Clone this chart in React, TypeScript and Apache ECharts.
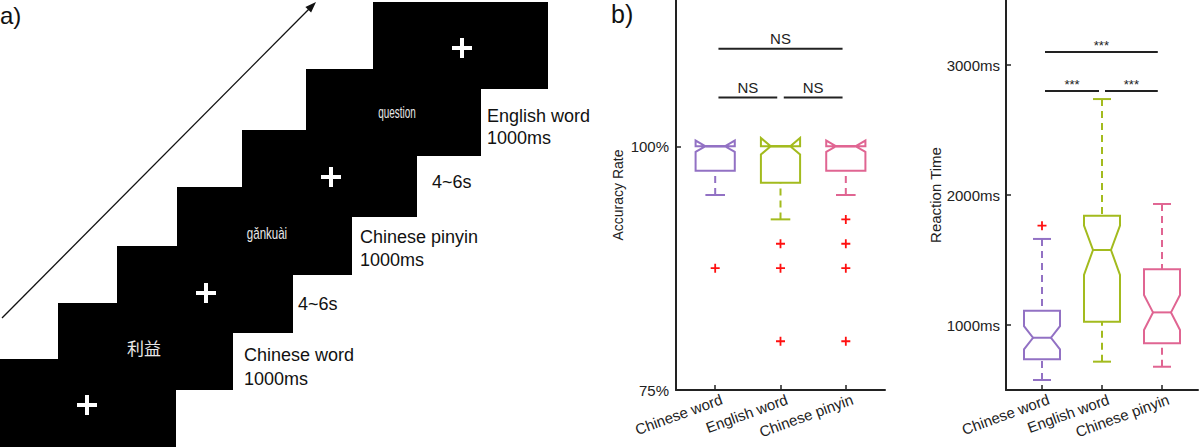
import React, { useEffect, useRef } from 'react';
import * as echarts from 'echarts';

const FONT = '"Liberation Sans", Arial, Helvetica, sans-serif';

const categories = ['Chinese word', 'English word', 'Chinese pinyin'];
const boxColors = ['#9271C4', '#A3BB1E', '#E06592'];
const outlierColor = '#FF1010';

// Accuracy rate (%)
const accLowWhisker = [95, 92.5, 95];
const accQ1 = [97.5, 96.25, 97.5];
const accMedian = [100, 100, 100];
const accQ3 = [100, 100, 100];
const accHighWhisker = [100, 100, 100];
const accNotchLow = [99.42, 99.15, 99.42];
const accNotchHigh = [100.58, 100.85, 100.58];
const accOutliers = [[87.5], [90, 87.5, 80], [92.5, 90, 87.5, 80]];
const accTicks = [75, 100];
const accSigX1 = [1.05, 1.05, 2.05];
const accSigX2 = [2.95, 1.95, 2.95];
const accSigY = [110, 105, 105];
const accSigLabel = ['NS', 'NS', 'NS'];

// Reaction time (ms)
const rtLowWhisker = [577, 718, 679];
const rtQ1 = [736, 1025, 859];
const rtMedian = [902, 1577, 1097];
const rtQ3 = [1110, 1841, 1428];
const rtHighWhisker = [1662, 2738, 1931];
const rtNotchLow = [813, 1385, 962];
const rtNotchHigh = [992, 1764, 1231];
const rtOutliers = [[1764], [], []];
const rtTicks = [1000, 2000, 3000];
const rtSigX1 = [1.05, 1.05, 2.05];
const rtSigX2 = [2.93, 1.95, 2.93];
const rtSigY = [3100, 2800, 2800];
const rtSigLabel = ['***', '***', '***'];

// Panel a texts
const stimWords = ['利益', 'gǎnkuài', 'question'];
const stepLabels = ['Chinese word', '1000ms', '4~6s', 'Chinese pinyin', '1000ms', '4~6s', 'English word', '1000ms'];

const PLUS = 'path://M4,0H6V4H10V6H6V10H4V6H0V4H4Z';

function boxRender(params: any, api: any) {
  const x = api.value(0);
  const lo = api.value(1), q1 = api.value(2), med = api.value(3), q3 = api.value(4), hi = api.value(5);
  const nLo = api.value(6), nHi = api.value(7);
  const c = (xx: number, yy: number) => api.coord([xx, yy]);
  const hw = 0.3, nw = 0.15;
  const color = boxColors[params.dataIndex];
  const pts = [
    c(x - hw, q1), c(x - hw, nLo), c(x - nw, med), c(x - hw, nHi), c(x - hw, q3),
    c(x + hw, q3), c(x + hw, nHi), c(x + nw, med), c(x + hw, nLo), c(x + hw, q1),
  ];
  const solid = { stroke: color, lineWidth: 2, fill: 'none' };
  const dashed = { stroke: color, lineWidth: 2, lineDash: [7, 5] };
  const line = (a: number[], b: number[], style: any) => ({
    type: 'line', shape: { x1: a[0], y1: a[1], x2: b[0], y2: b[1] }, style,
  });
  const children: any[] = [
    { type: 'polygon', shape: { points: pts }, style: solid },
    line(c(x - nw, med), c(x + nw, med), solid),
    line(c(x, lo), c(x, q1), dashed),
    line(c(x - nw, lo), c(x + nw, lo), solid),
    line(c(x - nw, hi), c(x + nw, hi), solid),
  ];
  if (hi > q3) children.push(line(c(x, hi), c(x, q3), dashed));
  return { type: 'group', children };
}

function sigRender(labels: string[], fontSize: number, gap: number) {
  return (params: any, api: any) => {
    const a = api.coord([api.value(0), api.value(2)]);
    const b = api.coord([api.value(1), api.value(2)]);
    return {
      type: 'group',
      children: [
        { type: 'line', shape: { x1: a[0], y1: a[1], x2: b[0], y2: b[1] }, style: { stroke: '#222', lineWidth: 2 } },
        {
          type: 'text', x: (a[0] + b[0]) / 2, y: a[1] - gap,
          style: { text: labels[params.dataIndex], align: 'center', verticalAlign: 'bottom', fontSize, fontFamily: FONT, fill: '#222' },
        },
      ],
    };
  };
}

function buildPanelA(): any[] {
  const els: any[] = [];
  const rects = [
    [0, 359, 176, 90], [58, 303, 175, 87], [117, 246, 176, 87], [177, 187, 175, 88],
    [242, 130, 175, 87], [306, 69, 175, 87], [373, 2, 175, 87],
  ];
  rects.forEach(([x, y, w, h]) => els.push({ type: 'rect', shape: { x, y, width: w, height: h }, style: { fill: '#000' } }));
  const crosses = [[87, 405], [206, 293], [331, 177], [462, 48]];
  crosses.forEach(([cx, cy]) => {
    els.push({ type: 'rect', shape: { x: cx - 10, y: cy - 2, width: 20, height: 4 }, style: { fill: '#fff' } });
    els.push({ type: 'rect', shape: { x: cx - 2, y: cy - 10, width: 4, height: 20 }, style: { fill: '#fff' } });
  });
  els.push({ type: 'text', x: 144, y: 347, style: { text: stimWords[0], fill: '#e8e8e8', font: '17px "Noto Sans CJK SC"', textAlign: 'center', textVerticalAlign: 'middle' } });
  els.push({ type: 'text', x: 267, y: 233, scaleX: 0.72, style: { text: stimWords[1], fill: '#e8e8e8', font: '16px "Liberation Sans"', textAlign: 'center', textVerticalAlign: 'middle' } });
  els.push({ type: 'text', x: 397, y: 113, scaleX: 0.62, style: { text: stimWords[2], fill: '#e8e8e8', font: '16px "Liberation Sans"', textAlign: 'center', textVerticalAlign: 'middle' } });
  const labelPos = [[244, 355], [244, 379], [298, 304], [360, 237], [360, 260], [432, 182], [487, 116], [487, 138]];
  stepLabels.forEach((t, i) => els.push({
    type: 'text', x: labelPos[i][0], y: labelPos[i][1],
    style: { text: t, fill: '#111', font: '18px "Liberation Sans"', textAlign: 'left', textVerticalAlign: 'middle' },
  }));
  // time arrow
  els.push({ type: 'line', shape: { x1: 2, y1: 318, x2: 312, y2: 6 }, style: { stroke: '#111', lineWidth: 1.3 } });
  els.push({ type: 'polygon', shape: { points: [[316, 2], [311.1, 12.6], [305.4, 7.0]] }, style: { fill: '#111' } });
  els.push({ type: 'text', x: 0, y: 15, style: { text: 'a)', fill: '#111', font: '24px "Liberation Sans"', textAlign: 'left', textVerticalAlign: 'middle' } });
  els.push({ type: 'text', x: 611, y: 14, style: { text: 'b)', fill: '#111', font: '25px "Liberation Sans"', textAlign: 'left', textVerticalAlign: 'middle' } });
  return els;
}

function xAxisDef(gridIndex: number) {
  return {
    type: 'value', gridIndex, min: 0.4, max: 3.6,
    axisLine: { show: true, onZero: false, lineStyle: { color: '#222', width: 2 } },
    axisTick: { show: true, inside: true, length: 5, customValues: [1, 2, 3], lineStyle: { color: '#222', width: 1.5 } },
    axisLabel: {
      customValues: [1, 2, 3], formatter: (v: number) => categories[Math.round(v) - 1] || '',
      rotate: 20, fontSize: 15, color: '#222', margin: 11, fontFamily: FONT, padding: [0, -7, 0, 0],
    },
    splitLine: { show: false },
  };
}

export default function App() {
  const ref = useRef<HTMLDivElement>(null);
  useEffect(() => {
    if (!ref.current) return;
    const chart = echarts.init(ref.current, undefined, { renderer: 'svg' });
    const accBoxData = categories.map((_, i) => [i + 1, accLowWhisker[i], accQ1[i], accMedian[i], accQ3[i], accHighWhisker[i], accNotchLow[i], accNotchHigh[i]]);
    const rtBoxData = categories.map((_, i) => [i + 1, rtLowWhisker[i], rtQ1[i], rtMedian[i], rtQ3[i], rtHighWhisker[i], rtNotchLow[i], rtNotchHigh[i]]);
    const accOut: number[][] = [];
    accOutliers.forEach((arr, i) => arr.forEach((v) => accOut.push([i + 1, v])));
    const rtOut: number[][] = [];
    rtOutliers.forEach((arr, i) => arr.forEach((v) => rtOut.push([i + 1, v])));
    const accSig = accSigY.map((y, i) => [accSigX1[i], accSigX2[i], y]);
    const rtSig = rtSigY.map((y, i) => [rtSigX1[i], rtSigX2[i], y]);

    const option: any = {
      animation: false,
      textStyle: { fontFamily: FONT },
      graphic: { elements: buildPanelA() },
      grid: [
        { left: 676, top: 0, width: 209, height: 390 },
        { left: 1006, top: 0, width: 192, height: 390 },
      ],
      xAxis: [xAxisDef(0), xAxisDef(1)],
      yAxis: [
        {
          type: 'value', gridIndex: 0, min: 75, max: 115,
          name: 'Accuracy Rate', nameLocation: 'middle', nameGap: 51, nameRotate: 90,
          nameTextStyle: { fontSize: 14, color: '#222', fontFamily: FONT },
          axisLine: { show: true, lineStyle: { color: '#222', width: 2 } },
          axisTick: { show: true, inside: true, length: 5, customValues: accTicks, lineStyle: { color: '#222', width: 1.5 } },
          axisLabel: { customValues: accTicks, formatter: (v: number) => v + '%', fontSize: 15, color: '#222', margin: 7, fontFamily: FONT },
          splitLine: { show: false },
        },
        {
          type: 'value', gridIndex: 1, min: 500, max: 3500,
          name: 'Reaction Time', nameLocation: 'middle', nameGap: 63, nameRotate: 90,
          nameTextStyle: { fontSize: 15, color: '#222', fontFamily: FONT },
          axisLine: { show: true, lineStyle: { color: '#222', width: 2 } },
          axisTick: { show: true, inside: true, length: 5, customValues: rtTicks, lineStyle: { color: '#222', width: 1.5 } },
          axisLabel: { customValues: rtTicks, formatter: (v: number) => v + 'ms', fontSize: 15, color: '#222', margin: 6, fontFamily: FONT },
          splitLine: { show: false },
        },
      ],
      series: [
        { type: 'custom', xAxisIndex: 0, yAxisIndex: 0, data: accBoxData, renderItem: boxRender, clip: false },
        { type: 'custom', xAxisIndex: 1, yAxisIndex: 1, data: rtBoxData, renderItem: boxRender, clip: false },
        { type: 'scatter', xAxisIndex: 0, yAxisIndex: 0, data: accOut, symbol: PLUS, symbolSize: 9, itemStyle: { color: outlierColor, opacity: 1 } },
        { type: 'scatter', xAxisIndex: 1, yAxisIndex: 1, data: rtOut, symbol: PLUS, symbolSize: 9, itemStyle: { color: outlierColor, opacity: 1 } },
        { type: 'custom', xAxisIndex: 0, yAxisIndex: 0, data: accSig, renderItem: sigRender(accSigLabel, 15, 3), clip: false },
        { type: 'custom', xAxisIndex: 1, yAxisIndex: 1, data: rtSig, renderItem: sigRender(rtSigLabel, 13, 0), clip: false },
      ],
    };
    chart.setOption(option);
    return () => chart.dispose();
  }, []);
  return <div ref={ref} style={{ position: 'absolute', left: 0, top: 0, width: 1200, height: 447, background: '#fff' }} />;
}
